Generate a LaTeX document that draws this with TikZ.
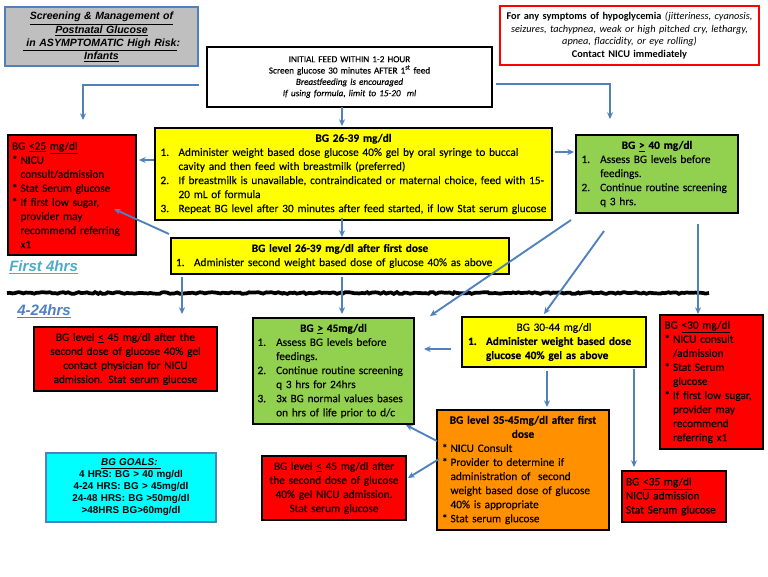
\documentclass[tikz,border=0pt]{standalone}
\usepackage{fontspec}
\setmainfont{Carlito}
\newfontfamily\arialf{Liberation Sans}
\newfontfamily\semib[FakeBold=0.12]{Carlito}
\usetikzlibrary{arrows.meta,decorations.pathmorphing}
\definecolor{lnblue}{HTML}{4F81BD}
\definecolor{grnbox}{HTML}{92D050}
\definecolor{orgbox}{HTML}{FF9000}
\definecolor{tealtxt}{HTML}{4BACC6}
\definecolor{redbg}{HTML}{FF0000}
\definecolor{yelbg}{HTML}{FFFF00}
\definecolor{cyanbg}{HTML}{00FFFF}
\definecolor{graybg}{HTML}{BFBFBF}
\definecolor{inkk}{HTML}{000000}
\newcommand{\li}[2]{\mbox{\makebox[\lind][l]{#1}#2}}
\newcommand{\lc}[1]{\mbox{\hspace*{\lind}#1}}
\newcommand{\ctr}[1]{\makebox[\linewidth][c]{#1}}
\newlength{\lind}
\tikzset{
  x=0.75pt,y=-0.75pt,
  base/.style={anchor=north west,inner sep=0pt,outer sep=0pt,align=left,text=inkk,font=\semib\fontsize{8.48}{10.55}\selectfont},
  wh/.style 2 args={minimum width=#1*0.75pt,minimum height=#2*0.75pt},
  tw/.style={text width=#1*0.75pt},
  blk/.style={base,draw=inkk,line width=1.5pt},
  redbox/.style={blk,fill=redbg,line width=1pt},
  yelbox/.style={blk,fill=yelbg},
  grnb/.style={blk,fill=grnbox},
  conn/.style={draw=lnblue,line width=1.4pt,-{Stealth[length=5pt,width=4.5pt]}},
  connthin/.style={conn,line width=1.1pt},
  epoch/.style={anchor=west,inner sep=0pt,font=\arialf\bfseries\itshape\fontsize{11.3}{13}\selectfont},
}
\begin{document}
\begin{tikzpicture}
\useasboundingbox[fill=white] (0,0) rectangle (768,576);
% boxes
\node[base,draw=lnblue,line width=1.4pt,fill=graybg,wh={193}{59},tw=187,align=center,font=\arialf\bfseries\itshape\fontsize{7.9}{9.9}\selectfont] (title) at (5,7)
 {\rule{0pt}{7pt}\underline{Screening \& Management of}\\\underline{Postnatal Glucose}\\\underline{ in ASYMPTOMATIC High Risk}:\\\underline{Infants}};
\node[blk,fill=white,wh={285}{60},tw=275,align=center,font=\semib\fontsize{6.9}{8.5}\selectfont] (init) at (207,47)
 {INITIAL FEED WITHIN 1-2 HOUR\\Screen glucose 30 minutes AFTER 1\textsuperscript{st} feed\\\textit{Breastfeeding is encouraged}\\\textit{If using formula, limit to 15-20\ \ ml}};
\node[base,draw=redbg,line width=0.8pt,fill=white,wh={259}{59},tw=254,align=center,font=\fontsize{7.73}{9.6}\selectfont] (sympt) at (500,6)
 {\textbf{For any symptoms of hypoglycemia} \textit{(jitteriness, cyanosis,}\\\textit{seizures, tachypnea, weak or high pitched cry, lethargy,}\\\textit{apnea, flaccidity, or eye rolling)}\\\textbf{Contact NICU immediately}};
\setlength{\lind}{13.5pt}
\node[yelbox,wh={397}{92},tw=386] (yone) at (155,128)
 {\ctr{\textbf{BG 26-39 mg/dl}}\\
  \li{1.}{Administer weight based dose glucose 40\% gel by oral syringe to buccal}\\
  \lc{cavity and then feed with breastmilk (preferred)}\\
  \li{2.}{If breastmilk is unavailable, contraindicated or maternal choice, feed with 15-}\\
  \lc{20 mL of formula}\\
  \li{3.}{Repeat BG level after 30 minutes after feed started, if low Stat serum glucose}};
\setlength{\lind}{6.4pt}
\node[redbox,wh={128}{120},tw=120] (rone) at (8,135)
 {BG \underline{<25} \underline{mg/dl}\\
  \li{*}{NICU}\\\lc{consult/admission}\\
  \li{*}{Stat Serum glucose}\\
  \li{*}{If first low sugar,}\\\lc{provider may}\\\lc{recommend referring}\\\lc{x1}};
\setlength{\lind}{14pt}
\node[grnb,line width=1pt,wh={162}{78},tw=151] (gone) at (576,135)
 {\ctr{\textbf{BG \underline{>} 40 mg/dl}}\\
  \li{1.}{Assess BG levels before}\\\lc{feedings.}\\
  \li{2.}{Continue routine screening}\\\lc{q 3 hrs.}};
\setlength{\lind}{13.5pt}
\node[yelbox,wh={338}{36},tw=328] (ytwo) at (171,238)
 {\ctr{\textbf{BG level 26-39 mg/dl after first dose}}\\
  \li{1.}{Administer second weight based dose of glucose 40\% as above}};
\node[redbox,wh={183}{64},tw=178,align=center] (rtwo) at (34,327)
 {BG level \underline{<} 45 mg/dl after the\\second dose of glucose 40\% gel\\contact physician for NICU\\admission. Stat serum glucose};
\setlength{\lind}{14pt}
\node[grnb,wh={161}{106},tw=152] (gtwo) at (253,318)
 {\ctr{\textbf{BG \underline{>} 45mg/dl}}\\
  \li{1.}{Assess BG levels before}\\\lc{feedings.}\\
  \li{2.}{Continue routine screening}\\\lc{q 3 hrs for 24hrs}\\
  \li{3.}{3x BG normal values bases}\\\lc{on hrs of life prior to d/c}};
\setlength{\lind}{13.5pt}
\node[yelbox,wh={184}{50},tw=172] (ythree) at (462,317)
 {\ctr{BG 30-44 mg/dl}\\
  \textbf{\li{1.}{Administer weight based dose}}\\\textbf{\lc{glucose 40\% gel as above}}};
\setlength{\lind}{6.4pt}
\node[redbox,line width=0.8pt,wh={103}{134},tw=94] (rthree) at (660,315)
 {BG \underline{<30 mg/dl}\\
  \li{*}{NICU consult}\\\lc{/admission}\\
  \li{*}{Stat Serum}\\\lc{glucose}\\
  \li{*}{If first low sugar,}\\\lc{provider may}\\\lc{recommend}\\\lc{referring x1}};
\setlength{\lind}{6.4pt}
\node[blk,line width=0.8pt,fill=orgbox,wh={172}{120},tw=162] (orange) at (437,410)
 {\ctr{\textbf{BG level 35-45mg/dl after first}}\\\ctr{\textbf{dose}}\\
  \li{*}{NICU Consult}\\
  \li{*}{Provider to determine if}\\\lc{administration of\ \ second}\\\lc{weight based dose of glucose}\\\lc{40\% is appropriate}\\
  \li{*}{Stat serum glucose}};
\node[base,draw=lnblue,line width=1.4pt,fill=cyanbg,wh={170}{69},tw=165,align=center,font=\arialf\bfseries\fontsize{7.4}{9}\selectfont] (goals) at (46,453)
 {\textit{\underline{BG GOALS: }}\\4 HRS: BG > 40 mg/dl\\4-24 HRS: BG > 45mg/dl\\24-48 HRS: BG >50mg/dl\\>48HRS BG>60mg/dl};
\node[redbox,wh={144}{64},tw=140,align=center] (rfour) at (262,456)
 {BG level \underline{<} 45 mg/dl after\\the second dose of glucose\\40\% gel NICU admission.\\Stat serum glucose};
\node[redbox,wh={104}{51},tw=96] (rfive) at (622,471)
 {BG \underline{<35 mg/dl}\\NICU admission\\Stat Serum glucose};
% labels
\node[epoch,text=tealtxt] (first) at (9,267) {\underline{First 4hrs}};
\node[epoch,text=lnblue] (later) at (17,311) {\underline{4-24hrs}};
% divider
\coordinate (dl) at (7,293);
\coordinate (dr) at (709,293);
\pgfmathsetseed{7}
\draw[inkk,line width=2.8pt,decorate,decoration={random steps,segment length=2pt,amplitude=0.65pt}] (dl) -- (dr);
% connector free ends
\coordinate (a1) at (199,85); \coordinate (a2) at (83,85); \coordinate (a3) at (83,120);
\coordinate (b1) at (496,84); \coordinate (b2) at (610,84); \coordinate (b3) at (610,119);
\coordinate (c1) at (342,107); \coordinate (c2) at (342,126);
\coordinate (d1) at (154,160); \coordinate (d2) at (139,160);
\coordinate (e1) at (555,152); \coordinate (e2) at (574,152);
\coordinate (f1) at (342,218); \coordinate (f2) at (342,237);
\coordinate (g1) at (169,234); \coordinate (g2) at (114,209);
\coordinate (h1) at (182,277); \coordinate (h2) at (182,314);
\coordinate (i1) at (342,277); \coordinate (i2) at (342,314);
\coordinate (j1) at (571,220); \coordinate (j2) at (430,316);
\coordinate (k1) at (604,231); \coordinate (k2) at (544,314);
\coordinate (l1) at (698,224); \coordinate (l2) at (698,314);
\coordinate (m1) at (451,349); \coordinate (m2) at (424,349);
\coordinate (n1) at (547,371); \coordinate (n2) at (547,407);
\coordinate (o1) at (634,369); \coordinate (o2) at (634,467);
\coordinate (p1) at (437,441); \coordinate (p2) at (406,425);
\coordinate (q1) at (439,459); \coordinate (q2) at (408,478);
\draw[conn] (a1) -- (a2) -- (a3);
\draw[conn] (b1) -- (b2) -- (b3);
\draw[conn] (c1) -- (c2);
\draw[conn] (d1) -- (d2);
\draw[conn] (e1) -- (e2);
\draw[conn] (f1) -- (f2);
\draw[conn] (g1) -- (g2);
\draw[conn] (h1) -- (h2);
\draw[conn] (i1) -- (i2);
\draw[conn] (j1) -- (j2);
\draw[conn] (k1) -- (k2);
\draw[conn] (l1) -- (l2);
\draw[conn] (m1) -- (m2);
\draw[conn] (n1) -- (n2);
\draw[connthin] (o1) -- (o2);
\draw[conn] (p1) -- (p2);
\draw[conn] (q1) -- (q2);
\end{tikzpicture}
\end{document}
